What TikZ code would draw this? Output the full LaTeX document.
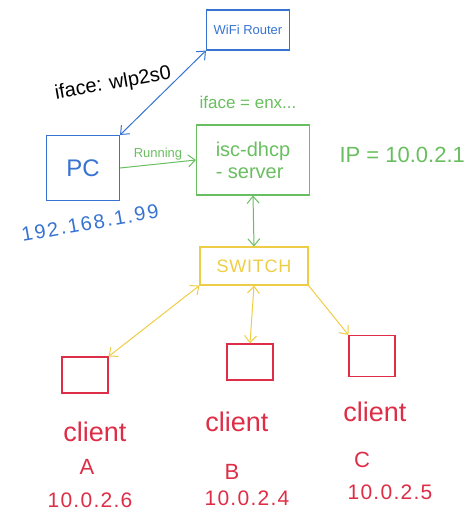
\documentclass[tikz,border=0pt]{standalone}
\usepackage{fontspec}
\setmainfont{Liberation Sans}
\usetikzlibrary{positioning}
\usetikzlibrary{arrows.meta}

\definecolor{penblue}{RGB}{55,115,210}
\definecolor{pengreen}{RGB}{105,190,95}
\definecolor{penyellow}{RGB}{238,205,70}
\definecolor{penred}{RGB}{222,45,70}

\begin{document}
\begin{tikzpicture}[x=1pt,y=-1pt,
  box/.style={draw,line width=1.1pt,inner sep=2pt},
  wire/.style={line width=1pt,arrows={Straight Barb[length=7pt,width=12pt]-Straight Barb[length=7pt,width=12pt]}},
  oneway/.style={line width=1pt,-{Straight Barb[length=7pt,width=12pt]}},
  clientbox/.style={box,penred,minimum width=46pt,minimum height=36pt},
  clientname/.style={penred,font=\fontsize{27}{27}\selectfont},
  clientletter/.style={penred,font=\fontsize{22}{22}\selectfont},
  clientip/.style={penred,font=\fontsize{21}{21}\selectfont\addfontfeatures{LetterSpace=6}}]
  \useasboundingbox (0,0) rectangle (474,528);
  \node[box,penblue,minimum width=83pt,minimum height=40pt,font=\fontsize{13}{13}\selectfont] (router) at (248,30) {WiFi Router};
  \node[box,penblue,minimum width=73pt,minimum height=65pt,font=\fontsize{24}{24}\selectfont] (pc) at (83,168) {PC};
  \node[box,pengreen,minimum width=113pt,minimum height=70pt,align=left,font=\fontsize{20}{22}\selectfont] (dhcp) at (253,160) {isc-dhcp\\- server};
  \node[box,penyellow,minimum width=108pt,minimum height=38pt,font=\fontsize{18}{18}\selectfont\addfontfeatures{LetterSpace=4}] (switch) at (254,266) {SWITCH};
  \node[clientbox] (cla) at (85,375) {};
  \node[clientbox] (clb) at (250,362) {};
  \node[clientbox,minimum height=41pt] (clc) at (372,356) {};

  \node[rotate=10,font=\fontsize{20}{20}\selectfont] (wlan) at (113,84) {iface: wlp2s0};
  \node[pengreen,font=\fontsize{17}{17}\selectfont] (enx) at (248,102) {iface = enx...};
  \node[pengreen,font=\fontsize{22}{22}\selectfont,anchor=west] (ip) at (336,155) {IP = 10.0.2.1};
  \node[penblue,rotate=10,font=\fontsize{20}{20}\selectfont\addfontfeatures{LetterSpace=10}] (pcip) at (90,223) {192.168.1.99};

  \node[clientname] (namea) at (95,432) {client};
  \node[clientname] (nameb) at (237,422) {client};
  \node[clientname] (namec) at (375,412) {client};
  \node[clientletter] (leta) at (87,467) {A};
  \node[clientletter] (letb) at (232,472) {B};
  \node[clientletter] (letc) at (362,460) {C};
  \node[clientip] (ipa) at (90,500) {10.0.2.6};
  \node[clientip] (ipb) at (247,498) {10.0.2.4};
  \node[clientip] (ipc) at (390,492) {10.0.2.5};

  \path[wire,penblue] (pc.north east) edge (router.south west);
  \path[oneway,pengreen]
    (pc.east) edge node[above,font=\fontsize{13}{13}\selectfont] {Running} (dhcp.west);
  \path[wire,pengreen] (dhcp.south) edge (switch.north);
  \path[wire,penyellow]
    (switch.south west) edge (cla.north east)
    (switch.south) edge (clb.north);
  \path[oneway,penyellow] (switch.south east) edge (clc.north west);
\end{tikzpicture}
\end{document}
